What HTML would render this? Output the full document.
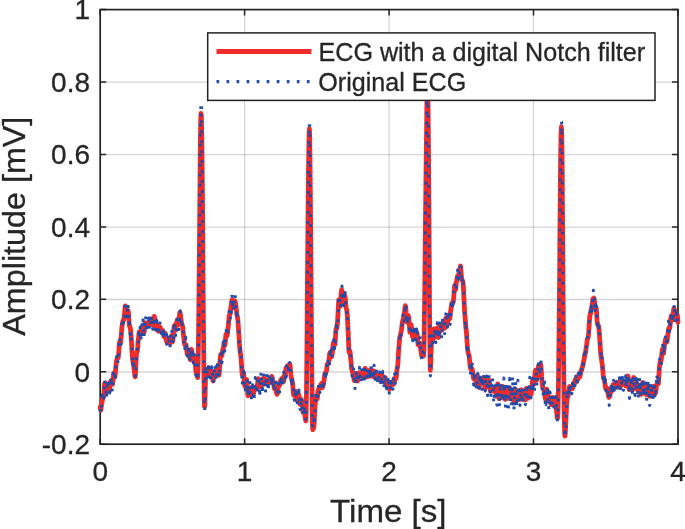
<!DOCTYPE html>
<html lang="en"><head><meta charset="utf-8"><title>ECG with a digital Notch filter</title>
<style>html,body{margin:0;padding:0;background:#fff;}body{width:685px;height:529px;position:relative;overflow:hidden;font-family:"Liberation Sans",sans-serif;}</style>
</head><body>
<svg width="685" height="529" viewBox="0 0 685 529" style="display:block;position:absolute;left:0;top:0">
<rect x="0" y="0" width="685" height="529" fill="#fff"/>
<path d="M244.6,9.6 V444.2" stroke="#262626" stroke-opacity="0.19" stroke-width="1.3" fill="none"/>
<path d="M389.1,9.6 V444.2" stroke="#262626" stroke-opacity="0.19" stroke-width="1.3" fill="none"/>
<path d="M533.5,9.6 V444.2" stroke="#262626" stroke-opacity="0.19" stroke-width="1.3" fill="none"/>
<path d="M100.2,372.0 H678.0" stroke="#262626" stroke-opacity="0.19" stroke-width="1.3" fill="none"/>
<path d="M100.2,299.5 H678.0" stroke="#262626" stroke-opacity="0.19" stroke-width="1.3" fill="none"/>
<path d="M100.2,227.1 H678.0" stroke="#262626" stroke-opacity="0.19" stroke-width="1.3" fill="none"/>
<path d="M100.2,154.7 H678.0" stroke="#262626" stroke-opacity="0.19" stroke-width="1.3" fill="none"/>
<path d="M100.2,82.2 H678.0" stroke="#262626" stroke-opacity="0.19" stroke-width="1.3" fill="none"/>
<path d="M100.2,444.2 v-6 M100.2,9.6 v6 M244.6,444.2 v-6 M244.6,9.6 v6 M389.1,444.2 v-6 M389.1,9.6 v6 M533.5,444.2 v-6 M533.5,9.6 v6 M678.0,444.2 v-6 M678.0,9.6 v6 M100.2,444.2 h6 M678.0,444.2 h-6 M100.2,371.8 h6 M678.0,371.8 h-6 M100.2,299.3 h6 M678.0,299.3 h-6 M100.2,226.9 h6 M678.0,226.9 h-6 M100.2,154.5 h6 M678.0,154.5 h-6 M100.2,82.0 h6 M678.0,82.0 h-6 M100.2,9.6 h6 M678.0,9.6 h-6" stroke="#262626" stroke-width="1.5" fill="none"/>
<rect x="100.2" y="9.6" width="577.8" height="434.59999999999997" fill="none" stroke="#222" stroke-width="1.7"/>
<clipPath id="c"><rect x="97.2" y="6.6" width="583.8" height="440.59999999999997"/></clipPath>
<g clip-path="url(#c)">
<path d="M100.2,407.0 100.5,409.6 100.8,410.0 101.1,408.0 101.4,405.5 101.6,404.1 101.9,402.8 102.2,401.1 102.5,399.3 102.8,398.1 103.1,397.4 103.4,396.7 103.7,395.5 104.0,393.1 104.2,388.8 104.5,384.6 104.8,382.8 105.1,383.4 105.4,385.4 105.7,387.9 106.0,390.4 106.3,391.1 106.6,390.0 106.8,388.5 107.1,387.4 107.4,386.2 107.7,384.6 108.0,384.1 108.3,385.5 108.6,387.9 108.9,390.0 109.2,391.1 109.4,390.7 109.7,388.0 110.0,384.5 110.3,382.2 110.6,381.4 110.9,380.9 111.2,380.6 111.5,381.8 111.8,383.3 112.0,384.4 112.3,384.4 112.6,383.9 112.9,382.2 113.2,378.9 113.5,375.4 113.8,373.1 114.1,373.0 114.4,374.6 114.6,376.4 114.9,376.9 115.2,374.9 115.5,371.5 115.8,367.8 116.1,364.2 116.4,361.4 116.7,360.2 117.0,359.4 117.2,358.7 117.5,358.4 117.8,358.2 118.1,357.8 118.4,356.3 118.7,353.1 119.0,348.5 119.3,343.9 119.6,341.8 119.8,342.1 120.1,343.1 120.4,343.3 120.7,341.6 121.0,338.4 121.3,334.6 121.6,330.8 121.9,327.2 122.2,324.8 122.4,323.5 122.7,322.4 123.0,321.0 123.3,320.3 123.6,319.8 123.9,318.7 124.2,316.7 124.5,313.7 124.8,310.4 125.0,307.5 125.3,305.9 125.6,306.2 125.9,307.9 126.2,309.8 126.5,311.2 126.8,312.1 127.1,312.8 127.4,312.6 127.6,311.4 127.9,310.5 128.2,311.0 128.5,313.7 128.8,318.4 129.1,322.7 129.4,325.3 129.7,326.5 130.0,327.2 130.2,327.8 130.5,329.2 130.8,332.3 131.1,336.2 131.4,340.6 131.7,346.0 132.0,352.0 132.3,356.6 132.6,359.1 132.8,360.7 133.1,362.8 133.4,364.5 133.7,366.0 134.0,368.1 134.3,370.6 134.6,373.6 134.9,376.0 135.2,376.7 135.4,374.9 135.7,369.9 136.0,363.0 136.3,356.5 136.6,352.6 136.9,351.8 137.2,351.5 137.5,350.0 137.8,346.7 138.0,342.6 138.3,339.6 138.6,337.2 138.9,334.2 139.2,332.0 139.5,332.0 139.8,333.3 140.1,333.5 140.4,333.0 140.6,332.7 140.9,332.2 141.2,330.8 141.5,328.7 141.8,327.4 142.1,326.9 142.4,326.8 142.7,326.3 143.0,325.9 143.2,326.9 143.5,329.3 143.8,331.7 144.1,332.1 144.4,330.3 144.7,327.3 145.0,324.3 145.3,322.8 145.6,323.2 145.8,324.8 146.1,326.3 146.4,326.7 146.7,326.7 147.0,326.2 147.3,324.8 147.6,323.4 147.9,323.0 148.2,323.2 148.4,322.7 148.7,322.1 149.0,322.8 149.3,323.6 149.6,323.9 149.9,323.8 150.2,323.7 150.5,322.4 150.8,320.2 151.0,319.0 151.3,319.1 151.6,320.5 151.9,322.2 152.2,323.8 152.5,324.9 152.8,324.7 153.1,322.9 153.4,320.7 153.6,318.9 153.9,317.4 154.2,316.4 154.5,317.1 154.8,319.8 155.1,322.8 155.4,325.3 155.7,327.7 156.0,329.0 156.2,327.8 156.5,325.4 156.8,324.1 157.1,324.9 157.4,326.6 157.7,328.8 158.0,330.6 158.3,331.2 158.6,330.2 158.8,328.1 159.1,326.6 159.4,326.6 159.7,327.1 160.0,327.1 160.3,327.4 160.6,329.1 160.9,331.1 161.2,331.5 161.4,330.8 161.7,330.2 162.0,330.2 162.3,330.5 162.6,331.1 162.9,331.3 163.2,331.3 163.5,332.5 163.8,334.9 164.0,336.8 164.3,336.7 164.6,335.0 164.9,333.6 165.2,333.4 165.5,334.7 165.8,336.8 166.1,339.1 166.4,340.6 166.6,341.5 166.9,342.3 167.2,342.9 167.5,342.7 167.8,341.1 168.1,339.3 168.4,338.7 168.7,338.6 169.0,338.7 169.2,339.3 169.5,340.7 169.8,342.5 170.1,343.2 170.4,342.3 170.7,340.5 171.0,338.4 171.3,336.5 171.6,335.6 171.8,336.4 172.1,339.4 172.4,341.8 172.7,341.4 173.0,339.0 173.3,335.6 173.6,332.2 173.9,328.6 174.2,325.9 174.4,325.6 174.7,327.2 175.0,329.1 175.3,330.3 175.6,330.1 175.9,328.1 176.2,324.9 176.5,322.7 176.8,322.0 177.0,321.5 177.3,320.2 177.6,319.6 177.9,321.0 178.2,323.2 178.5,324.7 178.8,323.9 179.1,320.6 179.4,316.5 179.6,313.6 179.9,312.4 180.2,313.3 180.5,315.3 180.8,317.8 181.1,320.0 181.4,322.2 181.7,324.2 182.0,324.8 182.2,324.8 182.5,325.7 182.8,328.1 183.1,331.4 183.4,334.4 183.7,336.9 184.0,339.7 184.3,342.3 184.6,344.2 184.8,345.0 185.1,345.0 185.4,344.7 185.7,344.3 186.0,344.9 186.3,346.8 186.6,349.2 186.9,351.5 187.2,353.4 187.4,354.3 187.7,354.0 188.0,353.1 188.3,352.8 188.6,352.3 188.9,351.1 189.2,350.8 189.5,352.7 189.8,356.0 190.0,358.6 190.3,359.7 190.6,358.9 190.9,355.9 191.2,351.8 191.5,349.5 191.8,350.7 192.1,353.6 192.4,355.8 192.6,356.3 192.9,356.6 193.2,357.4 193.5,357.5 193.8,356.5 194.1,355.9 194.4,357.3 194.7,359.4 195.0,361.1 195.2,363.2 195.5,366.5 195.8,370.2 196.1,372.3 196.4,372.6 196.7,373.0 197.0,373.9 197.3,375.4 197.6,377.7 197.8,376.3 198.1,365.0 198.4,345.3 198.7,320.7 199.0,293.4 199.3,262.1 199.6,226.8 199.9,191.4 200.2,160.9 200.4,137.6 200.7,121.7 201.0,113.5 201.3,115.0 201.6,126.8 201.9,146.1 202.2,171.5 202.5,202.1 202.8,236.8 203.0,273.3 203.3,309.7 203.6,343.8 203.9,372.9 204.2,395.0 204.5,406.6 204.8,405.3 205.1,395.6 205.4,383.4 205.6,374.8 205.9,371.7 206.2,370.4 206.5,370.3 206.8,371.2 207.1,373.0 207.4,374.3 207.7,374.0 208.0,372.5 208.2,370.5 208.5,368.7 208.8,368.0 209.1,368.4 209.4,368.8 209.7,369.6 210.0,371.6 210.3,374.0 210.6,375.5 210.8,375.3 211.1,374.0 211.4,372.7 211.7,372.8 212.0,373.9 212.3,375.4 212.6,377.6 212.9,380.0 213.2,381.0 213.4,379.2 213.7,375.7 214.0,372.5 214.3,371.0 214.6,370.9 214.9,371.1 215.2,371.4 215.5,372.3 215.8,373.4 216.0,373.6 216.3,373.1 216.6,372.6 216.9,371.3 217.2,369.1 217.5,367.8 217.8,368.8 218.1,371.4 218.4,373.4 218.6,374.8 218.9,375.3 219.2,373.5 219.5,369.4 219.8,364.2 220.1,359.7 220.4,356.5 220.7,354.5 221.0,354.2 221.2,355.2 221.5,356.0 221.8,355.6 222.1,353.8 222.4,351.9 222.7,350.3 223.0,349.3 223.3,348.3 223.6,346.8 223.8,344.9 224.1,343.7 224.4,344.3 224.7,345.4 225.0,344.8 225.3,342.0 225.6,337.9 225.9,334.8 226.2,334.1 226.4,335.0 226.7,335.9 227.0,335.9 227.3,334.6 227.6,332.4 227.9,329.6 228.2,326.8 228.5,323.8 228.8,320.2 229.0,317.2 229.3,315.4 229.6,314.8 229.9,314.6 230.2,313.7 230.5,311.1 230.8,307.8 231.1,305.7 231.4,304.1 231.6,301.9 231.9,300.1 232.2,299.9 232.5,301.1 232.8,302.7 233.1,304.6 233.4,306.2 233.7,305.8 234.0,303.6 234.2,301.6 234.5,300.8 234.8,300.8 235.1,301.4 235.4,302.7 235.7,304.5 236.0,306.6 236.3,309.0 236.6,311.6 236.8,313.8 237.1,315.5 237.4,316.8 237.7,318.8 238.0,322.0 238.3,326.5 238.6,330.9 238.9,334.7 239.2,338.7 239.4,343.2 239.7,347.4 240.0,350.6 240.3,352.7 240.6,354.5 240.9,356.9 241.2,360.3 241.5,364.4 241.8,368.8 242.0,372.6 242.3,374.9 242.6,375.3 242.9,374.3 243.2,372.8 243.5,372.7 243.8,375.3 244.1,380.0 244.4,383.8 244.6,385.3 244.9,385.7 245.2,386.3 245.5,386.9 245.8,385.7 246.1,382.2 246.4,379.4 246.7,379.7 247.0,382.3 247.3,385.9 247.5,390.2 247.8,394.5 248.1,395.8 248.4,393.4 248.7,390.0 249.0,388.4 249.3,388.9 249.6,389.7 249.9,389.7 250.1,389.3 250.4,390.3 250.7,392.8 251.0,394.6 251.3,393.8 251.6,391.1 251.9,388.1 252.2,386.9 252.5,388.3 252.7,390.7 253.0,392.9 253.3,393.9 253.6,393.6 253.9,392.2 254.2,390.3 254.5,389.4 254.8,388.7 255.1,387.9 255.3,387.3 255.6,387.4 255.9,387.6 256.2,387.5 256.5,388.1 256.8,388.6 257.1,388.1 257.4,385.8 257.7,382.6 257.9,380.0 258.2,378.7 258.5,379.2 258.8,381.9 259.1,385.4 259.4,387.0 259.7,385.1 260.0,382.5 260.3,382.0 260.5,382.4 260.8,382.7 261.1,383.3 261.4,383.6 261.7,383.0 262.0,381.9 262.3,382.6 262.6,384.6 262.9,384.5 263.1,382.2 263.4,379.3 263.7,377.8 264.0,378.4 264.3,379.9 264.6,381.6 264.9,382.4 265.2,382.6 265.5,382.1 265.7,381.2 266.0,380.2 266.3,379.7 266.6,379.8 266.9,380.8 267.2,382.8 267.5,384.1 267.8,384.3 268.1,384.0 268.3,383.6 268.6,382.8 268.9,381.3 269.2,379.6 269.5,378.3 269.8,378.2 270.1,379.3 270.4,380.1 270.7,379.7 270.9,378.9 271.2,378.0 271.5,377.0 271.8,376.4 272.1,377.4 272.4,379.4 272.7,380.9 273.0,381.7 273.3,382.0 273.5,382.8 273.8,384.6 274.1,386.8 274.4,388.7 274.7,388.8 275.0,386.4 275.3,383.3 275.6,383.0 275.9,386.3 276.1,390.5 276.4,392.6 276.7,393.6 277.0,394.3 277.3,393.7 277.6,391.8 277.9,389.5 278.2,387.7 278.5,386.1 278.7,384.7 279.0,384.2 279.3,384.9 279.6,385.5 279.9,384.6 280.2,382.2 280.5,380.5 280.8,380.7 281.1,381.2 281.3,380.8 281.6,379.1 281.9,378.4 282.2,379.4 282.5,380.7 282.8,381.3 283.1,381.6 283.4,381.9 283.7,380.8 283.9,378.3 284.2,375.8 284.5,375.1 284.8,375.8 285.1,375.7 285.4,373.9 285.7,370.6 286.0,368.1 286.3,367.4 286.5,367.9 286.8,368.3 287.1,367.4 287.4,366.3 287.7,365.9 288.0,366.7 288.3,368.6 288.6,370.3 288.9,370.1 289.1,367.4 289.4,364.4 289.7,363.7 290.0,364.9 290.3,367.2 290.6,370.7 290.9,374.8 291.2,377.7 291.5,378.3 291.7,378.6 292.0,380.0 292.3,381.7 292.6,383.7 292.9,386.7 293.2,391.0 293.5,394.3 293.8,395.3 294.1,395.0 294.3,395.2 294.6,395.6 294.9,395.1 295.2,393.9 295.5,392.4 295.8,391.3 296.1,391.3 296.4,393.7 296.7,397.6 296.9,400.1 297.2,399.5 297.5,397.4 297.8,395.9 298.1,395.0 298.4,394.4 298.7,394.3 299.0,395.6 299.3,398.2 299.5,400.9 299.8,403.0 300.1,404.2 300.4,403.7 300.7,401.5 301.0,399.5 301.3,399.5 301.6,401.2 301.9,402.0 302.1,402.2 302.4,404.6 302.7,409.2 303.0,412.4 303.3,412.1 303.6,409.3 303.9,406.5 304.2,406.0 304.5,408.9 304.7,413.2 305.0,416.3 305.3,418.2 305.6,420.3 305.9,420.9 306.2,411.0 306.5,390.3 306.8,362.5 307.1,331.0 307.3,297.6 307.6,263.1 307.9,228.9 308.2,197.2 308.5,170.5 308.8,149.1 309.1,133.9 309.4,128.8 309.7,136.3 309.9,154.5 310.2,180.1 310.5,211.3 310.8,246.8 311.1,285.1 311.4,323.6 311.7,359.5 312.0,389.7 312.3,412.4 312.5,426.3 312.8,429.7 313.1,428.8 313.4,428.6 313.7,428.0 314.0,425.4 314.3,420.2 314.6,414.4 314.9,409.6 315.1,405.4 315.4,401.0 315.7,397.6 316.0,396.5 316.3,396.9 316.6,397.5 316.9,398.6 317.2,398.8 317.5,396.7 317.7,393.1 318.0,390.8 318.3,390.2 318.6,389.6 318.9,388.6 319.2,388.0 319.5,387.9 319.8,388.2 320.1,388.0 320.3,386.6 320.6,385.1 320.9,384.5 321.2,384.2 321.5,383.6 321.8,384.2 322.1,386.2 322.4,387.6 322.7,387.1 322.9,386.0 323.2,385.1 323.5,383.6 323.8,381.6 324.1,379.6 324.4,377.4 324.7,375.0 325.0,373.3 325.3,373.2 325.5,373.2 325.8,372.4 326.1,371.7 326.4,371.1 326.7,369.3 327.0,366.0 327.3,363.9 327.6,363.7 327.9,363.9 328.1,363.6 328.4,363.1 328.7,362.3 329.0,360.2 329.3,356.9 329.6,354.1 329.9,352.8 330.2,352.5 330.5,352.5 330.7,353.3 331.0,355.0 331.3,356.5 331.6,356.9 331.9,356.1 332.2,353.9 332.5,351.2 332.8,348.1 333.1,344.8 333.3,343.0 333.6,343.4 333.9,344.5 334.2,345.0 334.5,344.9 334.8,344.6 335.1,342.5 335.4,338.0 335.7,332.9 335.9,329.5 336.2,328.5 336.5,328.7 336.8,328.2 337.1,326.2 337.4,323.1 337.7,319.0 338.0,313.8 338.3,308.2 338.5,303.3 338.8,300.0 339.1,299.5 339.4,301.7 339.7,304.8 340.0,306.4 340.3,305.1 340.6,301.9 340.9,298.3 341.1,294.7 341.4,291.4 341.7,289.8 342.0,291.2 342.3,294.9 342.6,299.0 342.9,301.9 343.2,302.7 343.5,301.3 343.7,299.0 344.0,297.4 344.3,296.8 344.6,296.2 344.9,295.9 345.2,297.4 345.5,301.3 345.8,305.6 346.1,307.9 346.3,308.8 346.6,309.4 346.9,310.3 347.2,313.4 347.5,318.9 347.8,325.2 348.1,331.4 348.4,338.6 348.7,345.8 348.9,350.9 349.2,352.7 349.5,351.7 349.8,350.8 350.1,352.2 350.4,355.6 350.7,358.9 351.0,361.6 351.3,364.8 351.5,368.0 351.8,369.6 352.1,370.4 352.4,371.8 352.7,373.1 353.0,373.4 353.3,374.2 353.6,376.2 353.9,378.3 354.1,379.9 354.4,380.7 354.7,380.7 355.0,379.8 355.3,378.4 355.6,377.3 355.9,376.9 356.2,376.4 356.5,376.1 356.7,376.8 357.0,378.8 357.3,380.7 357.6,380.9 357.9,379.8 358.2,377.8 358.5,375.3 358.8,373.3 359.1,372.7 359.3,373.5 359.6,374.4 359.9,374.8 360.2,375.1 360.5,375.3 360.8,375.5 361.1,375.3 361.4,374.5 361.7,373.3 361.9,372.7 362.2,373.2 362.5,374.9 362.8,376.8 363.1,377.3 363.4,376.5 363.7,375.5 364.0,375.3 364.3,374.8 364.5,372.5 364.8,369.7 365.1,368.4 365.4,369.6 365.7,372.3 366.0,375.1 366.3,376.7 366.6,376.9 366.9,376.3 367.1,374.9 367.4,373.0 367.7,371.2 368.0,370.9 368.3,372.4 368.6,374.6 368.9,376.2 369.2,376.1 369.5,375.5 369.7,375.0 370.0,374.0 370.3,372.0 370.6,369.9 370.9,369.2 371.2,370.6 371.5,373.4 371.8,375.8 372.1,376.3 372.3,374.6 372.6,373.0 372.9,372.6 373.2,372.4 373.5,371.7 373.8,370.9 374.1,371.5 374.4,373.2 374.7,375.4 374.9,377.3 375.2,377.8 375.5,376.8 375.8,375.3 376.1,374.2 376.4,373.5 376.7,373.4 377.0,373.7 377.3,374.0 377.5,374.5 377.8,375.4 378.1,376.1 378.4,376.5 378.7,376.4 379.0,375.8 379.3,375.2 379.6,375.3 379.9,376.1 380.1,377.3 380.4,379.0 380.7,380.9 381.0,381.4 381.3,380.2 381.6,378.0 381.9,376.0 382.2,375.2 382.5,376.5 382.7,379.1 383.0,380.6 383.3,380.9 383.6,380.9 383.9,381.0 384.2,380.5 384.5,379.2 384.8,378.1 385.1,377.8 385.3,378.2 385.6,379.2 385.9,380.4 386.2,382.0 386.5,384.4 386.8,386.2 387.1,386.4 387.4,384.9 387.7,383.3 387.9,383.1 388.2,383.8 388.5,385.3 388.8,387.1 389.1,388.6 389.4,389.3 389.7,388.6 390.0,386.3 390.3,384.0 390.5,383.5 390.8,384.0 391.1,384.2 391.4,384.2 391.7,384.4 392.0,384.5 392.3,383.8 392.6,383.5 392.9,384.3 393.1,384.4 393.4,383.0 393.7,381.1 394.0,379.4 394.3,378.6 394.6,379.0 394.9,379.8 395.2,379.8 395.5,379.1 395.7,378.5 396.0,378.4 396.3,376.9 396.6,373.7 396.9,370.4 397.2,368.4 397.5,367.2 397.8,364.9 398.1,360.5 398.3,355.2 398.6,351.1 398.9,348.0 399.2,344.2 399.5,340.0 399.8,337.2 400.1,336.2 400.4,335.4 400.7,334.0 400.9,332.5 401.2,331.3 401.5,329.8 401.8,327.2 402.1,324.3 402.4,322.0 402.7,320.8 403.0,320.1 403.3,319.1 403.5,317.8 403.8,316.6 404.1,314.9 404.4,312.5 404.7,309.7 405.0,307.1 405.3,305.7 405.6,306.3 405.9,309.2 406.1,312.9 406.4,316.7 406.7,320.3 407.0,322.2 407.3,321.0 407.6,318.0 407.9,315.7 408.2,315.3 408.5,316.1 408.7,317.5 409.0,320.0 409.3,324.0 409.6,328.9 409.9,332.2 410.2,332.0 410.5,329.1 410.8,325.8 411.1,324.5 411.3,325.7 411.6,328.6 411.9,332.1 412.2,334.8 412.5,336.6 412.8,337.3 413.1,336.5 413.4,334.9 413.7,333.1 413.9,332.2 414.2,332.3 414.5,332.7 414.8,333.8 415.1,335.4 415.4,337.2 415.7,337.9 416.0,336.5 416.3,334.1 416.5,332.5 416.8,332.5 417.1,334.0 417.4,336.7 417.7,340.2 418.0,343.5 418.3,345.1 418.6,345.3 418.9,344.9 419.1,344.1 419.4,343.3 419.7,343.2 420.0,344.5 420.3,346.4 420.6,348.2 420.9,350.3 421.2,352.8 421.5,355.1 421.7,355.9 422.0,355.6 422.3,355.1 422.6,355.0 422.9,355.2 423.2,355.6 423.5,356.1 423.8,352.0 424.1,341.5 424.3,324.9 424.6,302.7 424.9,276.3 425.2,247.8 425.5,218.8 425.8,191.3 426.1,166.2 426.4,142.7 426.7,121.0 426.9,103.1 427.2,91.4 427.5,86.4 427.8,90.0 428.1,108.0 428.4,138.8 428.7,178.6 429.0,222.6 429.3,266.0 429.5,306.0 429.8,340.0 430.1,363.3 430.4,370.4 430.7,364.8 431.0,355.1 431.3,345.6 431.6,338.7 431.9,334.9 432.1,335.4 432.4,336.9 432.7,338.8 433.0,339.2 433.3,336.4 433.6,332.4 433.9,329.6 434.2,328.7 434.5,329.0 434.7,330.6 435.0,333.9 435.3,336.6 435.6,336.9 435.9,335.9 436.2,334.6 436.5,333.1 436.8,330.6 437.1,328.2 437.3,328.1 437.6,330.4 437.9,334.1 438.2,337.1 438.5,337.4 438.8,335.5 439.1,332.4 439.4,328.5 439.7,325.2 439.9,324.7 440.2,327.2 440.5,329.7 440.8,330.3 441.1,330.1 441.4,330.3 441.7,329.9 442.0,328.4 442.3,326.3 442.5,324.3 442.8,323.3 443.1,322.7 443.4,322.9 443.7,324.4 444.0,326.6 444.3,328.1 444.6,328.2 444.9,326.7 445.1,324.0 445.4,320.9 445.7,318.4 446.0,318.0 446.3,319.7 446.6,322.4 446.9,324.3 447.2,324.2 447.5,323.0 447.7,322.0 448.0,320.6 448.3,318.4 448.6,316.1 448.9,315.1 449.2,316.4 449.5,318.3 449.8,318.6 450.1,316.6 450.3,313.6 450.6,311.2 450.9,309.7 451.2,307.5 451.5,305.2 451.8,303.5 452.1,303.0 452.4,303.2 452.7,303.2 452.9,302.9 453.2,302.0 453.5,300.2 453.8,296.5 454.1,291.8 454.4,287.6 454.7,285.4 455.0,286.1 455.3,288.4 455.5,289.9 455.8,288.5 456.1,284.7 456.4,281.8 456.7,280.4 457.0,278.8 457.3,277.2 457.6,276.0 457.9,275.6 458.1,275.8 458.4,276.2 458.7,275.4 459.0,273.3 459.3,271.7 459.6,271.0 459.9,269.4 460.2,266.9 460.5,266.0 460.7,267.9 461.0,271.4 461.3,275.3 461.6,278.5 461.9,280.1 462.2,280.4 462.5,280.5 462.8,281.3 463.1,282.8 463.3,286.0 463.6,291.1 463.9,297.6 464.2,304.4 464.5,309.9 464.8,313.9 465.1,317.2 465.4,321.3 465.7,325.3 465.9,327.8 466.2,329.8 466.5,333.2 466.8,338.0 467.1,342.7 467.4,346.5 467.7,349.5 468.0,351.7 468.3,353.3 468.5,354.1 468.8,354.6 469.1,355.5 469.4,358.1 469.7,361.8 470.0,365.0 470.3,367.1 470.6,368.3 470.9,369.0 471.1,369.1 471.4,368.7 471.7,368.4 472.0,368.9 472.3,370.0 472.6,371.3 472.9,373.4 473.2,376.3 473.5,378.3 473.7,378.7 474.0,378.4 474.3,378.6 474.6,378.2 474.9,376.6 475.2,375.9 475.5,377.4 475.8,380.6 476.1,383.3 476.3,383.7 476.6,381.4 476.9,377.5 477.2,376.1 477.5,377.8 477.8,380.1 478.1,381.0 478.4,381.8 478.7,383.9 478.9,386.5 479.2,387.5 479.5,385.4 479.8,381.6 480.1,379.2 480.4,379.5 480.7,380.8 481.0,381.2 481.3,380.9 481.5,381.0 481.8,380.6 482.1,379.9 482.4,380.0 482.7,381.0 483.0,381.7 483.3,380.8 483.6,378.9 483.9,377.5 484.1,378.4 484.4,382.5 484.7,387.5 485.0,389.0 485.3,386.5 485.6,383.2 485.9,381.6 486.2,381.1 486.5,380.9 486.7,382.1 487.0,384.4 487.3,386.1 487.6,386.5 487.9,386.2 488.2,385.6 488.5,383.9 488.8,381.4 489.1,380.3 489.3,381.0 489.6,383.4 489.9,386.6 490.2,389.9 490.5,391.4 490.8,390.3 491.1,388.6 491.4,387.9 491.7,388.2 491.9,388.2 492.2,387.8 492.5,387.7 492.8,387.9 493.1,388.3 493.4,389.5 493.7,390.9 494.0,390.7 494.3,389.1 494.5,388.0 494.8,388.8 495.1,390.9 495.4,392.7 495.7,393.3 496.0,393.5 496.3,394.5 496.6,396.3 496.9,395.9 497.1,392.2 497.4,387.1 497.7,383.9 498.0,384.0 498.3,386.2 498.6,390.3 498.9,395.5 499.2,398.9 499.5,398.1 499.7,394.2 500.0,390.3 500.3,388.5 500.6,388.9 500.9,389.9 501.2,390.3 501.5,391.1 501.8,394.2 502.1,397.7 502.3,397.3 502.6,392.9 502.9,388.3 503.2,386.5 503.5,387.2 503.8,389.0 504.1,392.4 504.4,396.4 504.7,398.5 504.9,399.2 505.2,399.3 505.5,398.5 505.8,395.8 506.1,392.2 506.4,389.7 506.7,388.4 507.0,389.0 507.3,392.5 507.5,396.8 507.8,398.4 508.1,396.7 508.4,394.7 508.7,393.4 509.0,392.1 509.3,389.9 509.6,387.9 509.9,388.2 510.1,391.6 510.4,396.7 510.7,398.7 511.0,396.2 511.3,392.7 511.6,391.5 511.9,391.8 512.2,391.3 512.5,391.7 512.7,393.9 513.0,397.0 513.3,399.8 513.6,401.1 513.9,399.8 514.2,396.3 514.5,392.9 514.8,391.0 515.1,389.3 515.3,389.1 515.6,392.4 515.9,397.1 516.2,400.2 516.5,400.5 516.8,399.6 517.1,398.7 517.4,397.8 517.7,396.5 517.9,394.4 518.2,393.0 518.5,394.0 518.8,396.6 519.1,398.6 519.4,399.5 519.7,399.5 520.0,397.8 520.3,394.7 520.5,391.6 520.8,390.0 521.1,389.8 521.4,391.1 521.7,394.3 522.0,397.4 522.3,399.1 522.6,399.1 522.9,398.0 523.1,396.4 523.4,394.1 523.7,392.0 524.0,390.8 524.3,391.8 524.6,395.7 524.9,399.3 525.2,399.9 525.5,397.0 525.7,393.0 526.0,390.1 526.3,388.5 526.6,388.3 526.9,389.4 527.2,392.1 527.5,395.4 527.8,397.7 528.1,398.2 528.3,397.4 528.6,396.1 528.9,394.9 529.2,394.1 529.5,392.8 529.8,390.6 530.1,388.7 530.4,389.3 530.7,392.0 530.9,394.0 531.2,393.9 531.5,391.7 531.8,388.7 532.1,385.1 532.4,381.5 532.7,379.3 533.0,379.1 533.3,381.1 533.5,383.7 533.8,384.4 534.1,382.5 534.4,379.4 534.7,376.5 535.0,373.9 535.3,371.6 535.6,370.1 535.9,371.0 536.2,374.4 536.4,378.3 536.7,380.0 537.0,378.6 537.3,376.3 537.6,374.1 537.9,371.3 538.2,368.0 538.5,365.8 538.8,365.3 539.0,366.0 539.3,367.2 539.6,367.9 539.9,367.1 540.2,365.5 540.5,364.3 540.8,365.0 541.1,368.0 541.4,372.1 541.6,376.2 541.9,380.2 542.2,383.6 542.5,385.9 542.8,387.4 543.1,388.5 543.4,389.2 543.7,389.1 544.0,389.4 544.2,390.4 544.5,392.1 544.8,394.3 545.1,396.8 545.4,398.8 545.7,399.2 546.0,397.3 546.3,393.6 546.6,390.3 546.8,389.3 547.1,390.5 547.4,392.6 547.7,394.4 548.0,396.3 548.3,398.8 548.6,401.1 548.9,401.3 549.2,399.6 549.4,398.0 549.7,397.6 550.0,397.8 550.3,398.7 550.6,400.7 550.9,403.2 551.2,404.6 551.5,404.6 551.8,402.7 552.0,399.9 552.3,398.0 552.6,397.5 552.9,397.6 553.2,397.8 553.5,399.1 553.8,401.9 554.1,404.7 554.4,405.9 554.6,405.2 554.9,403.8 555.2,402.6 555.5,402.5 555.8,404.0 556.1,406.6 556.4,409.7 556.7,412.9 557.0,415.6 557.2,417.8 557.5,418.4 557.8,416.5 558.1,406.8 558.4,388.0 558.7,364.5 559.0,338.4 559.3,309.8 559.6,278.5 559.8,245.0 560.1,210.8 560.4,179.0 560.7,153.0 561.0,135.4 561.3,127.0 561.6,129.1 561.9,143.6 562.2,168.6 562.4,201.3 562.7,239.1 563.0,279.8 563.3,320.5 563.6,357.3 563.9,387.6 564.2,411.4 564.5,428.3 564.8,435.6 565.0,436.1 565.3,432.8 565.6,427.2 565.9,420.3 566.2,413.6 566.5,407.6 566.8,402.3 567.1,398.2 567.4,396.6 567.6,396.7 567.9,396.8 568.2,395.7 568.5,393.6 568.8,391.4 569.1,389.2 569.4,387.3 569.7,386.6 570.0,387.0 570.2,387.4 570.5,387.7 570.8,387.8 571.1,387.8 571.4,387.9 571.7,388.3 572.0,388.8 572.3,388.7 572.6,388.0 572.8,386.8 573.1,385.3 573.4,383.7 573.7,383.1 574.0,383.6 574.3,383.8 574.6,383.0 574.9,381.1 575.2,379.6 575.4,380.1 575.7,380.8 576.0,380.2 576.3,378.9 576.6,378.3 576.9,378.3 577.2,378.2 577.5,378.6 577.8,379.4 578.0,379.0 578.3,377.1 578.6,375.3 578.9,374.8 579.2,375.7 579.5,376.5 579.8,376.8 580.1,376.5 580.4,374.6 580.6,372.1 580.9,370.7 581.2,370.7 581.5,370.8 581.8,369.7 582.1,368.0 582.4,366.7 582.7,365.8 583.0,365.0 583.2,363.6 583.5,361.8 583.8,360.2 584.1,359.0 584.4,357.6 584.7,355.6 585.0,353.8 585.3,353.1 585.6,352.5 585.8,350.5 586.1,348.1 586.4,346.2 586.7,344.4 587.0,341.8 587.3,339.4 587.6,338.6 587.9,338.4 588.2,337.8 588.4,335.7 588.7,332.4 589.0,327.8 589.3,322.7 589.6,318.3 589.9,315.6 590.2,314.4 590.5,313.8 590.8,313.0 591.0,311.4 591.3,309.2 591.6,307.7 591.9,307.3 592.2,305.9 592.5,302.7 592.8,299.5 593.1,298.6 593.4,298.8 593.6,298.4 593.9,298.1 594.2,299.2 594.5,301.5 594.8,304.2 595.1,306.8 595.4,308.4 595.7,308.4 596.0,307.7 596.2,308.1 596.5,311.0 596.8,315.8 597.1,320.4 597.4,323.3 597.7,324.7 598.0,325.2 598.3,325.4 598.6,325.9 598.8,327.3 599.1,330.2 599.4,334.3 599.7,338.6 600.0,343.0 600.3,347.6 600.6,352.1 600.9,355.5 601.2,357.3 601.4,358.8 601.7,360.6 602.0,362.8 602.3,365.2 602.6,368.1 602.9,371.3 603.2,374.7 603.5,377.4 603.8,378.8 604.0,378.9 604.3,379.4 604.6,381.2 604.9,383.4 605.2,385.7 605.5,387.7 605.8,388.8 606.1,388.8 606.4,387.8 606.6,387.6 606.9,388.3 607.2,389.6 607.5,391.1 607.8,392.3 608.1,393.7 608.4,395.4 608.7,396.8 609.0,397.4 609.2,396.9 609.5,396.6 609.8,396.3 610.1,395.0 610.4,392.5 610.7,389.7 611.0,388.6 611.3,389.0 611.6,390.0 611.8,390.7 612.1,390.6 612.4,389.9 612.7,388.0 613.0,385.6 613.3,384.5 613.6,385.1 613.9,386.4 614.2,387.2 614.4,387.1 614.7,387.3 615.0,387.7 615.3,387.2 615.6,385.6 615.9,383.8 616.2,383.0 616.5,383.2 616.8,383.0 617.0,382.4 617.3,383.4 617.6,385.8 617.9,387.2 618.2,385.7 618.5,384.2 618.8,385.0 619.1,385.8 619.4,384.1 619.6,381.7 619.9,381.6 620.2,383.7 620.5,385.9 620.8,386.0 621.1,383.5 621.4,380.4 621.7,379.6 622.0,381.2 622.2,381.9 622.5,381.1 622.8,380.7 623.1,381.5 623.4,382.5 623.7,383.1 624.0,383.3 624.3,383.5 624.6,383.1 624.8,382.9 625.1,383.9 625.4,385.3 625.7,385.9 626.0,385.8 626.3,385.9 626.6,385.9 626.9,384.7 627.2,382.2 627.4,380.0 627.7,377.8 628.0,376.0 628.3,377.4 628.6,382.2 628.9,387.5 629.2,389.7 629.5,388.3 629.8,385.8 630.0,383.6 630.3,382.2 630.6,381.7 630.9,381.7 631.2,382.5 631.5,384.5 631.8,387.2 632.1,389.6 632.4,390.2 632.6,389.1 632.9,386.1 633.2,381.7 633.5,378.1 633.8,377.6 634.1,380.6 634.4,384.3 634.7,386.7 635.0,387.7 635.2,387.4 635.5,386.2 635.8,384.6 636.1,383.5 636.4,383.2 636.7,383.8 637.0,385.5 637.3,388.0 637.6,390.0 637.8,390.2 638.1,388.9 638.4,387.0 638.7,385.3 639.0,385.0 639.3,386.9 639.6,389.1 639.9,390.3 640.2,390.7 640.4,391.9 640.7,393.9 641.0,394.2 641.3,392.5 641.6,389.9 641.9,387.2 642.2,385.0 642.5,383.2 642.8,382.4 643.0,383.8 643.3,388.0 643.6,392.4 643.9,392.9 644.2,389.8 644.5,386.8 644.8,385.4 645.1,385.6 645.4,387.4 645.6,390.6 645.9,393.7 646.2,394.5 646.5,393.2 646.8,390.5 647.1,388.0 647.4,386.5 647.7,385.6 648.0,385.5 648.2,386.2 648.5,388.3 648.8,391.4 649.1,394.1 649.4,395.8 649.7,396.2 650.0,394.9 650.3,392.3 650.6,389.5 650.8,387.8 651.1,388.3 651.4,390.4 651.7,393.0 652.0,394.8 652.3,395.1 652.6,394.3 652.9,392.6 653.2,390.3 653.4,387.9 653.7,386.5 654.0,386.8 654.3,388.0 654.6,389.3 654.9,390.5 655.2,392.0 655.5,393.1 655.8,392.4 656.0,389.8 656.3,386.8 656.6,384.8 656.9,384.4 657.2,384.3 657.5,384.0 657.8,383.8 658.1,383.9 658.4,383.8 658.6,381.2 658.9,375.9 659.2,370.3 659.5,366.2 659.8,363.8 660.1,362.2 660.4,361.1 660.7,361.1 661.0,361.2 661.2,360.0 661.5,357.6 661.8,354.5 662.1,351.6 662.4,349.6 662.7,348.9 663.0,350.2 663.3,352.4 663.6,353.5 663.8,351.9 664.1,348.4 664.4,345.4 664.7,343.9 665.0,342.6 665.3,340.7 665.6,339.2 665.9,339.2 666.2,340.0 666.4,341.1 666.7,342.0 667.0,341.6 667.3,339.5 667.6,336.8 667.9,334.3 668.2,331.9 668.5,329.8 668.8,328.3 669.0,327.9 669.3,328.4 669.6,328.6 669.9,327.3 670.2,324.6 670.5,321.5 670.8,318.5 671.1,316.5 671.4,315.8 671.6,316.6 671.9,318.2 672.2,319.8 672.5,320.1 672.8,318.3 673.1,315.2 673.4,311.8 673.7,309.3 674.0,308.4 674.2,309.1 674.5,310.4 674.8,311.7 675.1,313.1 675.4,314.9 675.7,316.1 676.0,316.2 676.3,316.2 676.6,315.9 676.8,315.2 677.1,314.6 677.4,315.3 677.7,318.2 678.0,322.2" stroke="#ee2b2b" stroke-width="4.8" fill="none" stroke-linejoin="round" stroke-linecap="round"/>
<path d="M100.2,408.9 100.5,410.0 100.8,413.2 101.1,409.3 101.4,406.8 101.6,403.6 101.9,399.2 102.2,395.0 102.5,396.2 102.8,398.0 103.1,399.8 103.4,399.7 103.7,397.3 104.0,398.1 104.2,394.3 104.5,386.1 104.8,380.0 105.1,382.7 105.4,386.4 105.7,389.4 106.0,389.4 106.3,397.2 106.6,393.6 106.8,395.2 107.1,388.6 107.4,386.7 107.7,382.3 108.0,379.6 108.3,382.9 108.6,383.8 108.9,388.5 109.2,391.7 109.4,391.5 109.7,392.9 110.0,388.8 110.3,382.3 110.6,376.6 110.9,377.9 111.2,378.9 111.5,382.9 111.8,385.7 112.0,388.1 112.3,391.7 112.6,385.4 112.9,381.6 113.2,373.2 113.5,371.6 113.8,369.5 114.1,370.7 114.4,375.5 114.6,376.9 114.9,381.2 115.2,379.4 115.5,375.9 115.8,367.5 116.1,365.5 116.4,360.6 116.7,354.7 117.0,355.5 117.2,355.3 117.5,360.9 117.8,361.1 118.1,363.2 118.4,358.7 118.7,354.5 119.0,345.6 119.3,338.8 119.6,339.0 119.8,337.6 120.1,343.7 120.4,342.5 120.7,345.7 121.0,342.6 121.3,337.2 121.6,329.4 121.9,326.1 122.2,323.1 122.4,319.6 122.7,320.0 123.0,321.5 123.3,320.2 123.6,324.3 123.9,321.2 124.2,319.7 124.5,317.9 124.8,306.9 125.0,306.7 125.3,306.4 125.6,308.6 125.9,309.3 126.2,310.7 126.5,316.3 126.8,316.8 127.1,311.4 127.4,312.7 127.6,306.8 127.9,303.4 128.2,306.6 128.5,309.1 128.8,311.0 129.1,323.9 129.4,322.5 129.7,329.1 130.0,331.5 130.2,334.5 130.5,329.7 130.8,334.5 131.1,332.0 131.4,338.8 131.7,344.1 132.0,349.4 132.3,357.5 132.6,364.3 132.8,366.2 133.1,363.5 133.4,359.7 133.7,360.5 134.0,364.9 134.3,368.0 134.6,372.2 134.9,374.6 135.2,375.6 135.4,377.3 135.7,372.4 136.0,368.8 136.3,357.5 136.6,354.3 136.9,351.2 137.2,350.2 137.5,349.7 137.8,344.3 138.0,344.0 138.3,345.4 138.6,340.6 138.9,332.8 139.2,335.0 139.5,328.8 139.8,327.9 140.1,327.2 140.4,332.3 140.6,334.5 140.9,337.2 141.2,341.3 141.5,333.0 141.8,332.0 142.1,322.9 142.4,325.0 142.7,320.3 143.0,319.9 143.2,322.5 143.5,330.0 143.8,337.6 144.1,335.6 144.4,329.5 144.7,324.4 145.0,329.2 145.3,318.9 145.6,316.0 145.8,320.8 146.1,325.3 146.4,331.6 146.7,331.2 147.0,330.9 147.3,331.7 147.6,325.0 147.9,322.9 148.2,319.2 148.4,319.8 148.7,317.9 149.0,321.2 149.3,326.8 149.6,329.8 149.9,326.5 150.2,326.1 150.5,324.6 150.8,319.7 151.0,322.2 151.3,318.2 151.6,320.6 151.9,320.8 152.2,324.3 152.5,326.8 152.8,329.3 153.1,325.2 153.4,326.3 153.6,318.8 153.9,320.1 154.2,318.2 154.5,318.5 154.8,325.3 155.1,327.5 155.4,327.8 155.7,327.7 156.0,330.1 156.2,324.8 156.5,325.1 156.8,320.5 157.1,322.2 157.4,321.7 157.7,325.7 158.0,332.5 158.3,335.0 158.6,331.5 158.8,331.1 159.1,326.2 159.4,327.5 159.7,327.2 160.0,322.9 160.3,324.1 160.6,329.2 160.9,330.5 161.2,334.5 161.4,338.2 161.7,335.2 162.0,333.3 162.3,333.0 162.6,327.8 162.9,328.2 163.2,328.5 163.5,330.0 163.8,338.3 164.0,335.5 164.3,339.8 164.6,336.8 164.9,335.4 165.2,331.8 165.5,332.0 165.8,333.3 166.1,337.0 166.4,334.3 166.6,342.5 166.9,344.5 167.2,345.4 167.5,345.5 167.8,343.4 168.1,339.4 168.4,336.9 168.7,340.3 169.0,337.5 169.2,340.9 169.5,341.4 169.8,348.3 170.1,345.6 170.4,344.5 170.7,339.3 171.0,336.2 171.3,330.9 171.6,328.7 171.8,329.5 172.1,334.4 172.4,338.7 172.7,342.6 173.0,344.7 173.3,342.8 173.6,333.5 173.9,328.2 174.2,327.0 174.4,321.9 174.7,326.8 175.0,329.7 175.3,329.6 175.6,335.7 175.9,337.5 176.2,333.2 176.5,327.2 176.8,322.1 177.0,319.0 177.3,314.9 177.6,318.1 177.9,320.4 178.2,323.6 178.5,326.1 178.8,329.6 179.1,324.3 179.4,321.8 179.6,312.4 179.9,311.6 180.2,310.7 180.5,312.9 180.8,318.1 181.1,322.3 181.4,327.0 181.7,328.2 182.0,327.1 182.2,325.1 182.5,323.4 182.8,323.6 183.1,326.1 183.4,328.9 183.7,334.9 184.0,343.0 184.3,346.4 184.6,350.2 184.8,349.1 185.1,346.7 185.4,342.0 185.7,337.2 186.0,338.8 186.3,340.5 186.6,350.1 186.9,354.8 187.2,354.8 187.4,355.9 187.7,356.3 188.0,349.9 188.3,351.3 188.6,345.9 188.9,344.6 189.2,349.6 189.5,354.2 189.8,356.6 190.0,361.7 190.3,357.6 190.6,358.0 190.9,354.5 191.2,349.1 191.5,351.2 191.8,353.5 192.1,348.1 192.4,353.2 192.6,360.5 192.9,361.1 193.2,362.8 193.5,360.3 193.8,359.8 194.1,354.4 194.4,356.3 194.7,356.7 195.0,359.7 195.2,362.6 195.5,369.4 195.8,375.5 196.1,375.5 196.4,375.7 196.7,372.2 197.0,374.1 197.3,373.8 197.6,375.9 197.8,369.5 198.1,359.7 198.4,348.9 198.7,326.2 199.0,293.5 199.3,261.8 199.6,223.9 199.9,192.4 200.2,163.7 200.4,137.8 200.7,117.7 201.0,113.4 201.3,114.6 201.6,130.0 201.9,149.2 202.2,177.2 202.5,207.5 202.8,237.3 203.0,271.0 203.3,305.7 203.6,340.8 203.9,369.1 204.2,393.6 204.5,407.0 204.8,410.1 205.1,398.9 205.4,386.7 205.6,373.9 205.9,366.3 206.2,365.4 206.5,367.3 206.8,368.9 207.1,372.8 207.4,376.7 207.7,379.4 208.0,377.3 208.2,372.3 208.5,365.7 208.8,362.5 209.1,369.7 209.4,364.4 209.7,370.4 210.0,375.0 210.3,375.9 210.6,382.7 210.8,378.9 211.1,373.3 211.4,372.3 211.7,366.8 212.0,368.2 212.3,367.6 212.6,374.6 212.9,381.3 213.2,382.7 213.4,381.6 213.7,380.3 214.0,378.3 214.3,368.4 214.6,364.4 214.9,366.8 215.2,366.8 215.5,370.2 215.8,374.0 216.0,379.0 216.3,380.8 216.6,378.2 216.9,370.0 217.2,370.1 217.5,362.3 217.8,367.8 218.1,365.3 218.4,371.1 218.6,374.7 218.9,375.1 219.2,377.9 219.5,372.2 219.8,369.9 220.1,360.6 220.4,354.7 220.7,356.4 221.0,354.6 221.2,354.3 221.5,355.7 221.8,363.0 222.1,361.5 222.4,359.0 222.7,351.6 223.0,346.2 223.3,341.7 223.6,343.9 223.8,341.8 224.1,345.8 224.4,343.1 224.7,351.2 225.0,347.7 225.3,341.2 225.6,339.7 225.9,338.2 226.2,336.3 226.4,325.7 226.7,328.5 227.0,333.0 227.3,331.4 227.6,334.4 227.9,331.8 228.2,330.2 228.5,321.4 228.8,317.6 229.0,311.5 229.3,310.5 229.6,309.9 229.9,314.0 230.2,315.0 230.5,319.8 230.8,312.7 231.1,312.7 231.4,310.2 231.6,303.7 231.9,294.1 232.2,298.4 232.5,297.6 232.8,306.7 233.1,305.4 233.4,310.1 233.7,307.9 234.0,309.8 234.2,299.4 234.5,299.1 234.8,297.5 235.1,294.5 235.4,301.9 235.7,304.2 236.0,312.7 236.3,310.9 236.6,314.8 236.8,318.3 237.1,314.6 237.4,315.6 237.7,314.7 238.0,313.8 238.3,320.4 238.6,328.3 238.9,335.6 239.2,342.1 239.4,347.0 239.7,350.3 240.0,353.3 240.3,355.2 240.6,347.9 240.9,350.7 241.2,357.1 241.5,367.2 241.8,369.3 242.0,382.0 242.3,385.0 242.6,374.8 242.9,378.9 243.2,375.2 243.5,370.5 243.8,367.2 244.1,374.6 244.4,377.9 244.6,386.7 244.9,389.5 245.2,387.8 245.5,393.1 245.8,389.5 246.1,384.8 246.4,378.7 246.7,380.2 247.0,380.6 247.3,383.5 247.5,385.6 247.8,394.4 248.1,390.7 248.4,395.5 248.7,387.3 249.0,386.9 249.3,382.7 249.6,380.2 249.9,382.6 250.1,388.1 250.4,397.9 250.7,399.2 251.0,398.9 251.3,399.8 251.6,391.1 251.9,385.5 252.2,383.2 252.5,386.4 252.7,384.8 253.0,389.6 253.3,394.1 253.6,396.1 253.9,400.9 254.2,397.3 254.5,388.8 254.8,383.0 255.1,381.1 255.3,377.4 255.6,381.2 255.9,387.0 256.2,390.0 256.5,394.0 256.8,393.2 257.1,390.2 257.4,384.9 257.7,385.3 257.9,376.0 258.2,376.6 258.5,378.4 258.8,383.4 259.1,386.4 259.4,386.9 259.7,397.1 260.0,386.9 260.3,386.5 260.5,376.9 260.8,377.3 261.1,371.6 261.4,380.6 261.7,381.8 262.0,381.6 262.3,393.9 262.6,385.8 262.9,387.8 263.1,387.3 263.4,378.5 263.7,379.1 264.0,374.9 264.3,375.3 264.6,384.3 264.9,386.0 265.2,388.2 265.5,392.9 265.7,388.0 266.0,381.1 266.3,378.2 266.6,383.1 266.9,381.6 267.2,373.2 267.5,382.8 267.8,388.0 268.1,386.8 268.3,389.9 268.6,383.4 268.9,381.3 269.2,380.6 269.5,374.5 269.8,373.2 270.1,374.4 270.4,374.6 270.7,379.1 270.9,383.0 271.2,385.1 271.5,382.1 271.8,386.9 272.1,374.7 272.4,374.8 272.7,376.0 273.0,381.2 273.3,379.6 273.5,387.9 273.8,387.9 274.1,389.3 274.4,391.7 274.7,390.5 275.0,388.2 275.3,380.4 275.6,385.5 275.9,386.6 276.1,387.0 276.4,390.0 276.7,390.8 277.0,390.8 277.3,392.1 277.6,391.7 277.9,384.0 278.2,383.3 278.5,384.0 278.7,378.9 279.0,388.6 279.3,387.7 279.6,392.2 279.9,388.1 280.2,385.2 280.5,384.3 280.8,382.3 281.1,376.7 281.3,380.1 281.6,378.9 281.9,377.1 282.2,382.7 282.5,382.3 282.8,382.7 283.1,379.9 283.4,376.4 283.7,372.1 283.9,372.8 284.2,371.5 284.5,372.9 284.8,371.5 285.1,376.0 285.4,378.1 285.7,373.2 286.0,374.7 286.3,376.7 286.5,367.2 286.8,365.2 287.1,364.6 287.4,363.9 287.7,368.7 288.0,368.4 288.3,369.8 288.6,368.5 288.9,370.4 289.1,366.7 289.4,363.6 289.7,362.7 290.0,367.7 290.3,366.7 290.6,371.4 290.9,378.4 291.2,379.1 291.5,383.9 291.7,380.3 292.0,383.9 292.3,377.3 292.6,382.6 292.9,382.7 293.2,384.8 293.5,392.3 293.8,394.9 294.1,397.7 294.3,400.3 294.6,397.6 294.9,395.8 295.2,392.2 295.5,394.7 295.8,392.2 296.1,389.9 296.4,392.2 296.7,395.4 296.9,397.7 297.2,403.0 297.5,400.0 297.8,399.6 298.1,393.2 298.4,391.4 298.7,395.4 299.0,390.0 299.3,394.5 299.5,395.8 299.8,401.5 300.1,409.6 300.4,402.1 300.7,404.1 301.0,403.3 301.3,397.0 301.6,397.0 301.9,401.1 302.1,405.0 302.4,403.9 302.7,408.4 303.0,415.0 303.3,409.7 303.6,410.7 303.9,410.4 304.2,406.9 304.5,408.2 304.7,410.1 305.0,413.6 305.3,417.6 305.6,418.2 305.9,420.7 306.2,411.1 306.5,392.4 306.8,361.9 307.1,328.6 307.3,299.0 307.6,260.6 307.9,227.3 308.2,196.8 308.5,171.6 308.8,148.7 309.1,135.0 309.4,129.0 309.7,133.9 309.9,151.5 310.2,174.8 310.5,213.5 310.8,244.9 311.1,290.1 311.4,325.6 311.7,361.4 312.0,391.4 312.3,406.4 312.5,425.6 312.8,426.0 313.1,422.9 313.4,421.6 313.7,423.5 314.0,419.0 314.3,424.2 314.6,417.2 314.9,414.5 315.1,407.6 315.4,400.8 315.7,396.4 316.0,393.1 316.3,397.1 316.6,395.6 316.9,398.2 317.2,399.2 317.5,399.3 317.7,397.0 318.0,395.5 318.3,388.2 318.6,384.7 318.9,385.1 319.2,385.2 319.5,387.9 319.8,392.5 320.1,394.0 320.3,393.5 320.6,389.4 320.9,389.1 321.2,385.2 321.5,383.7 321.8,381.2 322.1,381.3 322.4,384.7 322.7,385.8 322.9,387.5 323.2,390.0 323.5,387.8 323.8,386.3 324.1,380.4 324.4,374.1 324.7,377.0 325.0,377.3 325.3,373.3 325.5,376.0 325.8,380.1 326.1,377.9 326.4,371.9 326.7,372.7 327.0,365.9 327.3,362.4 327.6,362.0 327.9,358.5 328.1,360.2 328.4,365.4 328.7,367.5 329.0,365.7 329.3,365.3 329.6,359.6 329.9,356.2 330.2,348.7 330.5,348.2 330.7,351.5 331.0,350.4 331.3,353.7 331.6,357.9 331.9,357.4 332.2,354.0 332.5,348.5 332.8,349.5 333.1,343.0 333.3,343.7 333.6,339.7 333.9,343.9 334.2,346.4 334.5,348.8 334.8,345.1 335.1,347.3 335.4,339.0 335.7,333.8 335.9,326.1 336.2,327.9 336.5,321.5 336.8,329.0 337.1,325.5 337.4,325.1 337.7,321.7 338.0,320.7 338.3,309.5 338.5,302.1 338.8,295.9 339.1,295.8 339.4,296.4 339.7,296.9 340.0,303.1 340.3,307.9 340.6,306.8 340.9,304.0 341.1,296.9 341.4,296.9 341.7,291.4 342.0,286.1 342.3,289.2 342.6,289.4 342.9,300.5 343.2,300.9 343.5,304.0 343.7,305.6 344.0,296.3 344.3,296.3 344.6,290.9 344.9,289.0 345.2,296.3 345.5,299.7 345.8,303.3 346.1,310.8 346.3,311.9 346.6,312.6 346.9,313.1 347.2,316.6 347.5,314.8 347.8,320.1 348.1,330.2 348.4,333.2 348.7,343.1 348.9,349.1 349.2,350.9 349.5,353.1 349.8,353.4 350.1,352.1 350.4,353.0 350.7,353.7 351.0,358.9 351.3,362.9 351.5,367.4 351.8,374.0 352.1,376.1 352.4,377.2 352.7,373.8 353.0,371.9 353.3,370.9 353.6,368.8 353.9,375.0 354.1,376.5 354.4,380.0 354.7,383.2 355.0,388.6 355.3,381.5 355.6,383.0 355.9,372.6 356.2,373.4 356.5,376.7 356.7,374.2 357.0,376.9 357.3,377.8 357.6,377.0 357.9,382.1 358.2,381.4 358.5,378.8 358.8,377.2 359.1,370.9 359.3,371.3 359.6,367.2 359.9,373.1 360.2,376.9 360.5,381.2 360.8,382.9 361.1,381.3 361.4,376.5 361.7,372.5 361.9,370.4 362.2,369.7 362.5,371.2 362.8,375.6 363.1,375.8 363.4,375.1 363.7,376.7 364.0,383.5 364.3,377.9 364.5,371.3 364.8,369.4 365.1,370.5 365.4,370.8 365.7,373.2 366.0,371.6 366.3,374.9 366.6,378.4 366.9,378.1 367.1,374.5 367.4,373.6 367.7,368.1 368.0,367.5 368.3,368.2 368.6,372.6 368.9,372.6 369.2,380.2 369.5,374.9 369.7,377.3 370.0,374.4 370.3,372.8 370.6,365.0 370.9,364.7 371.2,367.3 371.5,372.2 371.8,376.0 372.1,371.9 372.3,377.3 372.6,377.2 372.9,374.5 373.2,371.3 373.5,367.8 373.8,367.6 374.1,365.2 374.4,373.8 374.7,371.1 374.9,378.4 375.2,378.0 375.5,379.4 375.8,374.1 376.1,374.5 376.4,371.0 376.7,371.1 377.0,373.7 377.3,377.2 377.5,378.5 377.8,383.5 378.1,383.9 378.4,383.2 378.7,379.0 379.0,370.2 379.3,372.0 379.6,371.8 379.9,372.4 380.1,375.3 380.4,380.9 380.7,382.2 381.0,385.8 381.3,385.7 381.6,380.1 381.9,378.1 382.2,371.4 382.5,371.1 382.7,374.0 383.0,376.1 383.3,382.0 383.6,385.1 383.9,389.1 384.2,383.7 384.5,384.1 384.8,376.1 385.1,375.0 385.3,376.5 385.6,377.3 385.9,375.6 386.2,384.4 386.5,388.6 386.8,386.0 387.1,387.0 387.4,384.5 387.7,382.6 387.9,381.8 388.2,376.3 388.5,379.0 388.8,387.3 389.1,390.5 389.4,394.6 389.7,392.2 390.0,392.9 390.3,383.2 390.5,385.0 390.8,379.3 391.1,377.3 391.4,378.9 391.7,385.6 392.0,389.7 392.3,388.0 392.6,388.4 392.9,389.3 393.1,381.8 393.4,379.3 393.7,376.5 394.0,376.1 394.3,374.0 394.6,371.6 394.9,379.6 395.2,383.5 395.5,381.4 395.7,379.2 396.0,374.6 396.3,372.8 396.6,368.5 396.9,366.7 397.2,365.6 397.5,368.0 397.8,366.1 398.1,364.0 398.3,359.0 398.6,355.8 398.9,350.5 399.2,346.8 399.5,339.2 399.8,333.9 400.1,334.7 400.4,334.9 400.7,334.0 400.9,336.3 401.2,332.1 401.5,331.2 401.8,330.1 402.1,322.8 402.4,317.7 402.7,315.7 403.0,315.4 403.3,313.6 403.5,317.5 403.8,318.9 404.1,321.0 404.4,319.5 404.7,317.6 405.0,309.0 405.3,303.8 405.6,305.6 405.9,307.1 406.1,312.0 406.4,316.8 406.7,322.3 407.0,322.6 407.3,324.2 407.6,323.3 407.9,318.8 408.2,317.3 408.5,315.0 408.7,320.5 409.0,323.2 409.3,327.3 409.6,332.3 409.9,333.9 410.2,333.5 410.5,330.0 410.8,330.8 411.1,326.8 411.3,325.7 411.6,327.9 411.9,331.1 412.2,337.5 412.5,339.1 412.8,340.7 413.1,338.0 413.4,338.3 413.7,334.2 413.9,331.1 414.2,330.3 414.5,325.5 414.8,334.0 415.1,340.1 415.4,342.5 415.7,339.7 416.0,341.8 416.3,339.2 416.5,333.0 416.8,329.1 417.1,329.7 417.4,327.3 417.7,337.7 418.0,340.4 418.3,345.3 418.6,347.4 418.9,346.9 419.1,347.6 419.4,340.0 419.7,339.1 420.0,335.5 420.3,340.9 420.6,343.0 420.9,353.3 421.2,356.0 421.5,357.0 421.7,359.7 422.0,354.0 422.3,353.0 422.6,349.9 422.9,349.5 423.2,352.8 423.5,355.0 423.8,353.9 424.1,342.8 424.3,325.3 424.6,307.8 424.9,277.9 425.2,245.9 425.5,216.2 425.8,185.0 426.1,162.0 426.4,136.7 426.7,122.2 426.9,107.3 427.2,95.3 427.5,89.8 427.8,89.7 428.1,109.0 428.4,135.5 428.7,169.6 429.0,215.1 429.3,266.8 429.5,306.4 429.8,344.1 430.1,365.5 430.4,375.9 430.7,369.1 431.0,358.3 431.3,344.9 431.6,336.4 431.9,335.9 432.1,334.3 432.4,334.6 432.7,344.3 433.0,343.8 433.3,337.7 433.6,337.1 433.9,333.6 434.2,329.6 434.5,331.3 434.7,331.9 435.0,331.4 435.3,336.6 435.6,341.8 435.9,342.7 436.2,338.5 436.5,337.6 436.8,329.3 437.1,329.0 437.3,322.8 437.6,328.5 437.9,335.1 438.2,338.2 438.5,336.8 438.8,333.4 439.1,337.6 439.4,334.9 439.7,328.1 439.9,324.5 440.2,319.9 440.5,322.9 440.8,325.1 441.1,329.3 441.4,334.0 441.7,338.5 442.0,334.2 442.3,327.5 442.5,323.5 442.8,317.9 443.1,317.1 443.4,320.0 443.7,320.4 444.0,328.3 444.3,329.8 444.6,333.8 444.9,327.6 445.1,325.3 445.4,318.1 445.7,316.8 446.0,311.0 446.3,314.9 446.6,317.9 446.9,320.8 447.2,326.3 447.5,327.3 447.7,324.2 448.0,318.9 448.3,314.5 448.6,310.6 448.9,312.5 449.2,312.7 449.5,317.4 449.8,320.3 450.1,324.4 450.3,320.8 450.6,318.3 450.9,312.9 451.2,306.3 451.5,303.7 451.8,300.6 452.1,300.8 452.4,302.1 452.7,306.0 452.9,302.5 453.2,305.7 453.5,301.4 453.8,295.3 454.1,290.5 454.4,287.7 454.7,285.9 455.0,283.6 455.3,287.1 455.5,288.5 455.8,291.1 456.1,290.5 456.4,287.5 456.7,281.1 457.0,275.0 457.3,276.3 457.6,270.1 457.9,273.6 458.1,273.9 458.4,279.3 458.7,277.3 459.0,276.9 459.3,271.4 459.6,273.5 459.9,268.8 460.2,265.1 460.5,264.9 460.7,270.0 461.0,271.7 461.3,276.8 461.6,278.3 461.9,281.6 462.2,283.4 462.5,280.0 462.8,282.0 463.1,278.7 463.3,285.8 463.6,286.3 463.9,294.2 464.2,303.9 464.5,310.6 464.8,316.8 465.1,320.1 465.4,324.1 465.7,321.3 465.9,326.3 466.2,328.8 466.5,332.2 466.8,337.7 467.1,348.7 467.4,344.8 467.7,353.1 468.0,355.6 468.3,357.2 468.5,355.6 468.8,357.4 469.1,357.8 469.4,361.7 469.7,362.0 470.0,368.6 470.3,374.6 470.6,371.0 470.9,372.2 471.1,366.4 471.4,367.7 471.7,363.1 472.0,366.1 472.3,364.1 472.6,370.4 472.9,372.2 473.2,378.0 473.5,380.9 473.7,385.1 474.0,379.0 474.3,376.7 474.6,378.1 474.9,376.1 475.2,372.7 475.5,379.6 475.8,382.2 476.1,386.7 476.3,386.9 476.6,380.3 476.9,380.4 477.2,382.9 477.5,378.2 477.8,373.4 478.1,375.7 478.4,379.2 478.7,379.9 478.9,377.6 479.2,388.0 479.5,382.8 479.8,380.8 480.1,377.4 480.4,375.8 480.7,375.0 481.0,381.5 481.3,379.7 481.5,385.6 481.8,386.8 482.1,391.1 482.4,386.8 482.7,378.3 483.0,385.0 483.3,381.9 483.6,378.5 483.9,373.9 484.1,385.0 484.4,386.2 484.7,386.0 485.0,387.7 485.3,391.1 485.6,382.9 485.9,380.3 486.2,375.7 486.5,378.4 486.7,376.1 487.0,383.8 487.3,385.6 487.6,395.7 487.9,389.8 488.2,389.9 488.5,388.8 488.8,384.3 489.1,374.2 489.3,378.2 489.6,380.8 489.9,385.8 490.2,388.4 490.5,397.3 490.8,398.5 491.1,391.8 491.4,385.7 491.7,383.8 491.9,382.1 492.2,382.6 492.5,378.2 492.8,384.5 493.1,386.4 493.4,394.0 493.7,401.9 494.0,403.1 494.3,394.3 494.5,385.9 494.8,381.0 495.1,386.5 495.4,386.7 495.7,389.2 496.0,393.4 496.3,397.8 496.6,401.9 496.9,405.2 497.1,393.4 497.4,386.4 497.7,383.3 498.0,380.1 498.3,386.6 498.6,386.5 498.9,397.1 499.2,400.3 499.5,406.9 499.7,402.1 500.0,393.1 500.3,386.6 500.6,382.5 500.9,385.6 501.2,385.6 501.5,391.4 501.8,395.0 502.1,399.3 502.3,401.0 502.6,401.1 502.9,397.8 503.2,389.1 503.5,386.7 503.8,378.0 504.1,383.9 504.4,390.6 504.7,396.4 504.9,398.8 505.2,405.0 505.5,407.5 505.8,392.3 506.1,392.5 506.4,386.6 506.7,381.6 507.0,386.1 507.3,391.8 507.5,400.3 507.8,410.8 508.1,411.7 508.4,408.1 508.7,398.9 509.0,389.7 509.3,384.9 509.6,378.3 509.9,382.6 510.1,392.2 510.4,394.3 510.7,405.5 511.0,406.7 511.3,403.4 511.6,396.9 511.9,387.6 512.2,390.1 512.5,376.4 512.7,382.9 513.0,386.1 513.3,399.7 513.6,406.8 513.9,410.9 514.2,400.5 514.5,398.5 514.8,386.9 515.1,384.2 515.3,385.0 515.6,381.6 515.9,391.3 516.2,396.6 516.5,404.5 516.8,407.2 517.1,398.1 517.4,396.8 517.7,387.2 517.9,380.3 518.2,382.7 518.5,386.5 518.8,390.1 519.1,396.0 519.4,406.9 519.7,404.8 520.0,405.4 520.3,401.9 520.5,393.4 520.8,396.3 521.1,389.5 521.4,390.6 521.7,392.3 522.0,398.3 522.3,403.6 522.6,403.8 522.9,402.3 523.1,398.6 523.4,389.4 523.7,387.5 524.0,387.5 524.3,388.8 524.6,390.4 524.9,397.9 525.2,399.0 525.5,404.7 525.7,398.2 526.0,397.0 526.3,386.8 526.6,388.0 526.9,389.7 527.2,388.9 527.5,394.0 527.8,397.1 528.1,399.0 528.3,401.8 528.6,399.5 528.9,395.3 529.2,387.9 529.5,384.2 529.8,377.2 530.1,385.4 530.4,386.1 530.7,391.0 530.9,398.0 531.2,397.1 531.5,395.2 531.8,387.8 532.1,385.1 532.4,379.6 532.7,378.2 533.0,378.7 533.3,386.4 533.5,384.4 533.8,390.8 534.1,391.4 534.4,390.1 534.7,383.8 535.0,375.3 535.3,371.8 535.6,372.8 535.9,373.1 536.2,373.8 536.4,380.0 536.7,382.8 537.0,386.6 537.3,379.6 537.6,377.6 537.9,371.5 538.2,361.8 538.5,364.2 538.8,359.4 539.0,363.1 539.3,370.0 539.6,370.9 539.9,373.3 540.2,368.9 540.5,367.3 540.8,365.1 541.1,360.4 541.4,366.9 541.6,372.3 541.9,378.0 542.2,387.6 542.5,394.1 542.8,393.8 543.1,396.1 543.4,391.5 543.7,384.5 544.0,383.3 544.2,379.3 544.5,378.2 544.8,391.7 545.1,398.0 545.4,406.9 545.7,403.8 546.0,404.6 546.3,395.5 546.6,389.0 546.8,386.7 547.1,386.9 547.4,389.1 547.7,397.4 548.0,403.9 548.3,402.8 548.6,406.2 548.9,409.7 549.2,403.8 549.4,392.1 549.7,389.1 550.0,394.7 550.3,390.2 550.6,400.5 550.9,398.4 551.2,407.0 551.5,406.3 551.8,407.5 552.0,405.3 552.3,398.4 552.6,396.0 552.9,395.5 553.2,398.9 553.5,400.3 553.8,400.2 554.1,405.0 554.4,412.2 554.6,410.4 554.9,408.4 555.2,401.7 555.5,399.3 555.8,396.5 556.1,401.2 556.4,408.3 556.7,412.5 557.0,414.4 557.2,422.7 557.5,418.3 557.8,415.5 558.1,405.4 558.4,387.2 558.7,361.8 559.0,339.3 559.3,307.6 559.6,276.2 559.8,249.3 560.1,214.8 560.4,184.8 560.7,152.1 561.0,138.5 561.3,121.6 561.6,121.9 561.9,138.7 562.2,164.7 562.4,200.1 562.7,242.6 563.0,285.3 563.3,321.1 563.6,357.2 563.9,387.8 564.2,412.1 564.5,425.1 564.8,436.7 565.0,431.4 565.3,432.1 565.6,434.5 565.9,424.7 566.2,415.4 566.5,409.0 566.8,405.3 567.1,394.7 567.4,389.6 567.6,392.1 567.9,393.5 568.2,393.0 568.5,396.3 568.8,391.2 569.1,394.8 569.4,391.3 569.7,387.8 570.0,383.8 570.2,386.6 570.5,385.8 570.8,389.0 571.1,387.4 571.4,391.7 571.7,393.8 572.0,391.8 572.3,384.5 572.6,383.3 572.8,379.7 573.1,379.6 573.4,380.9 573.7,386.3 574.0,388.2 574.3,386.6 574.6,388.9 574.9,384.6 575.2,380.7 575.4,376.5 575.7,376.2 576.0,380.9 576.3,377.9 576.6,380.3 576.9,383.3 577.2,378.7 577.5,382.2 577.8,381.3 578.0,381.2 578.3,376.6 578.6,370.2 578.9,369.0 579.2,373.4 579.5,374.6 579.8,373.0 580.1,374.1 580.4,376.8 580.6,372.4 580.9,373.1 581.2,368.9 581.5,366.4 581.8,369.4 582.1,363.7 582.4,363.8 582.7,365.8 583.0,362.4 583.2,367.7 583.5,365.1 583.8,360.6 584.1,356.6 584.4,353.3 584.7,348.4 585.0,350.5 585.3,351.3 585.6,353.9 585.8,353.2 586.1,353.8 586.4,350.9 586.7,342.1 587.0,340.6 587.3,339.9 587.6,335.3 587.9,335.0 588.2,336.4 588.4,331.7 588.7,332.2 589.0,332.2 589.3,325.6 589.6,319.8 589.9,316.5 590.2,311.6 590.5,307.1 590.8,309.9 591.0,309.0 591.3,306.1 591.6,312.7 591.9,307.5 592.2,307.0 592.5,304.2 592.8,299.1 593.1,293.8 593.4,290.2 593.6,294.5 593.9,298.4 594.2,298.5 594.5,302.9 594.8,308.0 595.1,303.5 595.4,312.6 595.7,304.1 596.0,300.6 596.2,305.4 596.5,307.5 596.8,315.6 597.1,315.7 597.4,324.3 597.7,323.6 598.0,327.5 598.3,329.4 598.6,325.7 598.8,328.1 599.1,326.4 599.4,332.6 599.7,334.6 600.0,341.6 600.3,348.1 600.6,349.6 600.9,353.5 601.2,355.2 601.4,360.2 601.7,357.7 602.0,357.3 602.3,361.2 602.6,368.7 602.9,371.8 603.2,379.0 603.5,378.7 603.8,379.3 604.0,382.3 604.3,375.0 604.6,383.0 604.9,377.0 605.2,377.6 605.5,385.5 605.8,390.3 606.1,393.8 606.4,393.8 606.6,391.0 606.9,390.9 607.2,390.1 607.5,390.9 607.8,391.8 608.1,393.6 608.4,397.4 608.7,394.2 609.0,400.6 609.2,405.4 609.5,400.7 609.8,398.9 610.1,394.2 610.4,392.6 610.7,389.6 611.0,386.3 611.3,392.7 611.6,394.1 611.8,392.1 612.1,389.2 612.4,391.6 612.7,387.0 613.0,389.3 613.3,384.2 613.6,380.2 613.9,382.8 614.2,390.3 614.4,387.6 614.7,387.6 615.0,389.1 615.3,385.8 615.6,388.3 615.9,380.4 616.2,383.1 616.5,383.5 616.8,384.0 617.0,383.3 617.3,384.8 617.6,387.5 617.9,388.4 618.2,388.2 618.5,384.7 618.8,382.9 619.1,379.2 619.4,377.7 619.6,383.2 619.9,383.5 620.2,386.5 620.5,390.6 620.8,385.3 621.1,384.5 621.4,382.9 621.7,383.3 622.0,375.6 622.2,376.8 622.5,381.3 622.8,377.7 623.1,386.0 623.4,390.3 623.7,388.0 624.0,383.9 624.3,382.4 624.6,378.2 624.8,378.2 625.1,380.1 625.4,381.4 625.7,375.8 626.0,382.7 626.3,388.0 626.6,387.1 626.9,380.7 627.2,384.7 627.4,382.3 627.7,378.4 628.0,377.5 628.3,381.4 628.6,378.5 628.9,385.1 629.2,389.8 629.5,398.5 629.8,386.6 630.0,387.4 630.3,386.1 630.6,380.8 630.9,380.2 631.2,382.8 631.5,378.5 631.8,388.6 632.1,389.5 632.4,395.8 632.6,391.5 632.9,387.7 633.2,383.4 633.5,376.5 633.8,381.3 634.1,376.6 634.4,384.2 634.7,388.5 635.0,395.5 635.2,394.2 635.5,390.4 635.8,390.7 636.1,389.0 636.4,378.5 636.7,383.8 637.0,380.3 637.3,385.4 637.6,390.0 637.8,391.3 638.1,399.2 638.4,395.3 638.7,390.9 639.0,381.2 639.3,383.0 639.6,378.0 639.9,385.6 640.2,381.4 640.4,392.4 640.7,390.0 641.0,391.2 641.3,393.8 641.6,391.6 641.9,387.6 642.2,380.2 642.5,378.7 642.8,384.3 643.0,383.0 643.3,387.8 643.6,395.6 643.9,396.5 644.2,393.8 644.5,392.7 644.8,380.6 645.1,382.4 645.4,385.8 645.6,381.3 645.9,383.7 646.2,395.5 646.5,398.0 646.8,401.2 647.1,398.3 647.4,391.3 647.7,386.9 648.0,380.8 648.2,389.2 648.5,382.8 648.8,389.3 649.1,394.3 649.4,401.6 649.7,405.5 650.0,398.8 650.3,396.3 650.6,391.2 650.8,390.3 651.1,383.0 651.4,386.4 651.7,394.7 652.0,393.0 652.3,400.8 652.6,402.2 652.9,396.8 653.2,393.6 653.4,388.4 653.7,385.7 654.0,383.6 654.3,382.2 654.6,386.0 654.9,396.0 655.2,394.3 655.5,397.4 655.8,393.1 656.0,386.3 656.3,383.9 656.6,374.7 656.9,374.3 657.2,379.7 657.5,384.1 657.8,381.9 658.1,385.7 658.4,385.6 658.6,380.5 658.9,379.5 659.2,370.6 659.5,363.1 659.8,356.1 660.1,359.6 660.4,360.6 660.7,363.5 661.0,367.0 661.2,368.3 661.5,362.0 661.8,356.0 662.1,349.0 662.4,349.9 662.7,346.0 663.0,340.5 663.3,348.7 663.6,353.3 663.8,350.1 664.1,350.1 664.4,352.9 664.7,345.6 665.0,338.3 665.3,337.7 665.6,336.7 665.9,334.5 666.2,337.0 666.4,341.3 666.7,342.7 667.0,346.2 667.3,342.8 667.6,337.0 667.9,330.0 668.2,326.4 668.5,321.1 668.8,325.7 669.0,326.6 669.3,328.1 669.6,332.2 669.9,332.9 670.2,324.1 670.5,325.0 670.8,320.8 671.1,314.9 671.4,312.8 671.6,317.8 671.9,317.4 672.2,322.4 672.5,317.9 672.8,317.1 673.1,316.6 673.4,315.2 673.7,312.0 674.0,310.2 674.2,303.8 674.5,303.6 674.8,311.9 675.1,315.9 675.4,318.8 675.7,322.3 676.0,317.2 676.3,313.2 676.6,317.8 676.8,312.4 677.1,311.6 677.4,317.1 677.7,325.5 678.0,327.7" stroke="#1f4cab" stroke-width="3" fill="none" stroke-dasharray="2.8 7.2" stroke-linejoin="round"/>
<rect x="199.3" y="106.3" width="3.8" height="2.6" fill="#1f4cab"/><rect x="307.8" y="124.3" width="3.4" height="2.5" fill="#1f4cab"/>
</g>
<rect x="207.7" y="32.9" width="447.3" height="67.5" fill="#fff" stroke="#222" stroke-width="1.5"/>
<path d="M216.5,51.5 H311.4" stroke="#ee2b2b" stroke-width="4.8"/>
<path d="M216.5,81.7 H312.5" stroke="#1f4cab" stroke-width="3.2" stroke-dasharray="2.7 7.34"/>
<text x="318.5" y="60.9" font-size="25" textLength="326.6" lengthAdjust="spacingAndGlyphs" font-family="'Liberation Sans', sans-serif" fill="#262626" stroke="#262626" stroke-width="0.3">ECG with a digital Notch filter</text>
<text x="318.3" y="91.3" font-size="25" textLength="147.9" lengthAdjust="spacingAndGlyphs" font-family="'Liberation Sans', sans-serif" fill="#262626" stroke="#262626" stroke-width="0.3">Original ECG</text>
<text x="100.2" y="480.6" font-size="28" text-anchor="middle" font-family="'Liberation Sans', sans-serif" fill="#262626" stroke="#262626" stroke-width="0.3">0</text>
<text x="244.6" y="480.6" font-size="28" text-anchor="middle" font-family="'Liberation Sans', sans-serif" fill="#262626" stroke="#262626" stroke-width="0.3">1</text>
<text x="389.1" y="480.6" font-size="28" text-anchor="middle" font-family="'Liberation Sans', sans-serif" fill="#262626" stroke="#262626" stroke-width="0.3">2</text>
<text x="533.5" y="480.6" font-size="28" text-anchor="middle" font-family="'Liberation Sans', sans-serif" fill="#262626" stroke="#262626" stroke-width="0.3">3</text>
<text x="678.0" y="480.6" font-size="28" text-anchor="middle" font-family="'Liberation Sans', sans-serif" fill="#262626" stroke="#262626" stroke-width="0.3">4</text>
<text x="90" y="453.9" font-size="28" text-anchor="end" font-family="'Liberation Sans', sans-serif" fill="#262626" stroke="#262626" stroke-width="0.3">-0.2</text>
<text x="90" y="381.5" font-size="28" text-anchor="end" font-family="'Liberation Sans', sans-serif" fill="#262626" stroke="#262626" stroke-width="0.3">0</text>
<text x="90" y="309.0" font-size="28" text-anchor="end" font-family="'Liberation Sans', sans-serif" fill="#262626" stroke="#262626" stroke-width="0.3">0.2</text>
<text x="90" y="236.6" font-size="28" text-anchor="end" font-family="'Liberation Sans', sans-serif" fill="#262626" stroke="#262626" stroke-width="0.3">0.4</text>
<text x="90" y="164.2" font-size="28" text-anchor="end" font-family="'Liberation Sans', sans-serif" fill="#262626" stroke="#262626" stroke-width="0.3">0.6</text>
<text x="90" y="91.7" font-size="28" text-anchor="end" font-family="'Liberation Sans', sans-serif" fill="#262626" stroke="#262626" stroke-width="0.3">0.8</text>
<text x="90" y="19.3" font-size="28" text-anchor="end" font-family="'Liberation Sans', sans-serif" fill="#262626" stroke="#262626" stroke-width="0.3">1</text>
<text x="388.3" y="522" font-size="32" text-anchor="middle" textLength="116.4" lengthAdjust="spacingAndGlyphs" font-family="'Liberation Sans', sans-serif" fill="#262626" stroke="#262626" stroke-width="0.3">Time [s]</text>
<text transform="translate(24.5,226.2) rotate(-90)" font-size="32" text-anchor="middle" textLength="219" lengthAdjust="spacingAndGlyphs" font-family="'Liberation Sans', sans-serif" fill="#262626" stroke="#262626" stroke-width="0.3">Amplitude [mV]</text>
</svg>
</body></html>
